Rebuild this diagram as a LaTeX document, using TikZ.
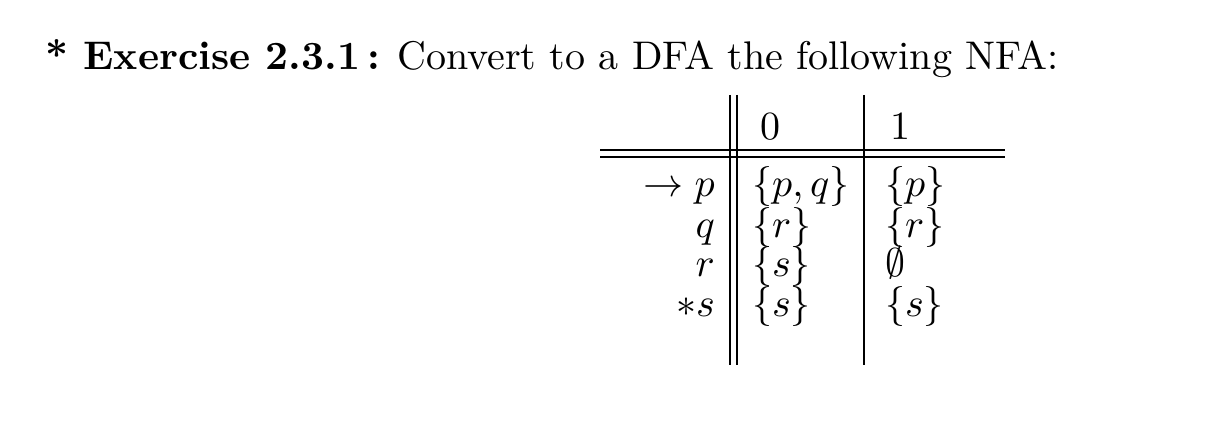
\documentclass[tikz,border=0pt]{standalone}
\usepackage{graphicx}
\usepackage{amsmath,amssymb}
\newcommand{\bigtx}[1]{\scalebox{4}{#1}}
\begin{document}
\begin{tikzpicture}[x=1pt,y=-1pt,
  t/.style={inner sep=0pt,font=\fontsize{10}{12}\selectfont},
  ln/.style={line width=2.2pt}]
\useasboundingbox (0,0) rectangle (1206,430);
\node[t,anchor=base west] (title) at (45,70) {\bigtx{\textbf{* Exercise 2.3.1\,:} Convert to a DFA the following NFA:}};
% lines
\draw[ln] (730,95) -- (730,365) (737,95) -- (737,365);
\draw[ln] (864,95) -- (864,365);
\draw[ln] (600,150) -- (1005,150) (600,157) -- (1005,157);
% header
\node[t,anchor=base west] (h0) at (760,140) {\bigtx{0}};
\node[t,anchor=base west] (h1) at (890,140) {\bigtx{1}};
% rows
\node[t,anchor=base east] (rp) at (715,197) {\bigtx{$\to p$}};
\node[t,anchor=base east] (rq) at (715,237) {\bigtx{$q$}};
\node[t,anchor=base east] (rr) at (715,276) {\bigtx{$r$}};
\node[t,anchor=base east] (rs) at (715,316) {\bigtx{$*s$}};
\node[t,anchor=base west] (a1) at (752,197) {\bigtx{$\{p,q\}$}};
\node[t,anchor=base west] (a2) at (752,237) {\bigtx{$\{r\}$}};
\node[t,anchor=base west] (a3) at (752,276) {\bigtx{$\{s\}$}};
\node[t,anchor=base west] (a4) at (752,316) {\bigtx{$\{s\}$}};
\node[t,anchor=base west] (b1) at (885,197) {\bigtx{$\{p\}$}};
\node[t,anchor=base west] (b2) at (885,237) {\bigtx{$\{r\}$}};
\node[t,anchor=base west] (b3) at (885,276) {\bigtx{$\emptyset$}};
\node[t,anchor=base west] (b4) at (885,316) {\bigtx{$\{s\}$}};
\end{tikzpicture}
\end{document}
